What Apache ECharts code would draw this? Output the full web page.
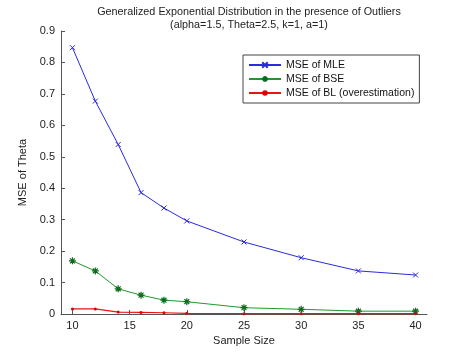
<!DOCTYPE html>
<html>
<head>
<meta charset="utf-8">
<script src="https://cdn.jsdelivr.net/npm/echarts@6/dist/echarts.min.js"></script>
<style>
html,body{margin:0;padding:0;background:#fff;}
#chart{width:474px;height:353px;}
</style>
</head>
<body>
<div id="chart"></div>
<script>
var sampleSizes = [10, 12, 14, 16, 18, 20, 25, 30, 35, 40];
var mseMLE = [0.847, 0.677, 0.539, 0.386, 0.337, 0.296, 0.229, 0.179, 0.137, 0.124];
var mseBSE = [0.169, 0.137, 0.080, 0.060, 0.044, 0.039, 0.020, 0.015, 0.009, 0.009];
var mseBL  = [0.016, 0.016, 0.006, 0.005, 0.004, 0.002, 0.001, 0.001, 0.001, 0.001];
var xTicks = [10, 15, 20, 25, 30, 35, 40];
var seriesNames = ['MSE of MLE', 'MSE of BSE', 'MSE of BL (overestimation)'];

function pairs(xs, ys) { return xs.map(function (x, i) { return [x, ys[i]]; }); }

var chart = echarts.init(document.getElementById('chart'));
var font = 'Liberation Sans, Arial, sans-serif';
var axisCol = '#555555';
var xMark = 'path://M0,0L10,10M10,0L0,10';
var starMark = 'path://M5,0L5,10M0,5L10,5M1.5,1.5L8.5,8.5M8.5,1.5L1.5,8.5';

chart.setOption({
  animation: false,
  backgroundColor: '#ffffff',
  title: {
    text: 'Generalized Exponential Distribution in the presence of Outliers\n(alpha=1.5, Theta=2.5, k=1, a=1)',
    left: 244, top: 1, textAlign: 'center',
    textStyle: { fontFamily: font, fontSize: 10.8, fontWeight: 'normal', color: '#222', lineHeight: 13 }
  },
  legend: {
    left: 243, top: 55, orient: 'vertical',
    data: seriesNames,
    backgroundColor: '#fff', borderColor: '#444', borderWidth: 1,
    padding: [4, 5, 4, 5], itemGap: 2, itemWidth: 32, itemHeight: 7,
    textStyle: { fontFamily: font, fontSize: 10.5, color: '#111', lineHeight: 12 }
  },
  grid: { left: 61, right: 47, top: 31, bottom: 39 },
  xAxis: {
    type: 'value', min: 9, max: 41,
    name: 'Sample Size', nameLocation: 'middle', nameGap: 18,
    nameTextStyle: { fontFamily: font, fontSize: 11, color: '#222' },
    axisLine: { show: true, lineStyle: { color: axisCol, width: 1 } },
    axisTick: { show: true, inside: true, length: 4, customValues: xTicks, lineStyle: { color: axisCol } },
    axisLabel: { customValues: xTicks, fontFamily: font, fontSize: 11, color: '#222', margin: 6 },
    splitLine: { show: false }
  },
  yAxis: {
    type: 'value', min: 0, max: 0.9, interval: 0.1,
    name: 'MSE of Theta', nameLocation: 'middle', nameGap: 29,
    nameTextStyle: { fontFamily: font, fontSize: 11, color: '#222' },
    axisLine: { show: true, lineStyle: { color: axisCol, width: 1 } },
    axisTick: { show: true, inside: true, length: 4, lineStyle: { color: axisCol } },
    axisLabel: { fontFamily: font, fontSize: 11, color: '#222', margin: 6,
      formatter: function (v) { return v === 0 ? '0' : (+v.toFixed(1)).toString(); } },
    splitLine: { show: false }
  },
  series: [
    {
      name: seriesNames[0], type: 'line', data: pairs(sampleSizes, mseMLE),
      symbol: xMark, symbolSize: 5, showAllSymbol: true,
      lineStyle: { color: '#2b2bdc', width: 1 },
      itemStyle: { color: '#2b2bdc', borderColor: '#2b2bdc', borderWidth: 1 }
    },
    {
      name: seriesNames[1], type: 'line', data: pairs(sampleSizes, mseBSE),
      symbol: starMark, symbolSize: 7, showAllSymbol: true,
      lineStyle: { color: '#1f9a2a', width: 1 },
      itemStyle: { color: '#0f6a1a', borderColor: '#0f6a1a', borderWidth: 1.2 }
    },
    {
      name: seriesNames[2], type: 'line', data: pairs(sampleSizes, mseBL),
      symbol: 'circle', symbolSize: 3, showAllSymbol: true,
      lineStyle: { color: '#ee1111', width: 1.2 },
      itemStyle: { color: '#dd0000' }
    }
  ]
});
</script>
</body>
</html>
